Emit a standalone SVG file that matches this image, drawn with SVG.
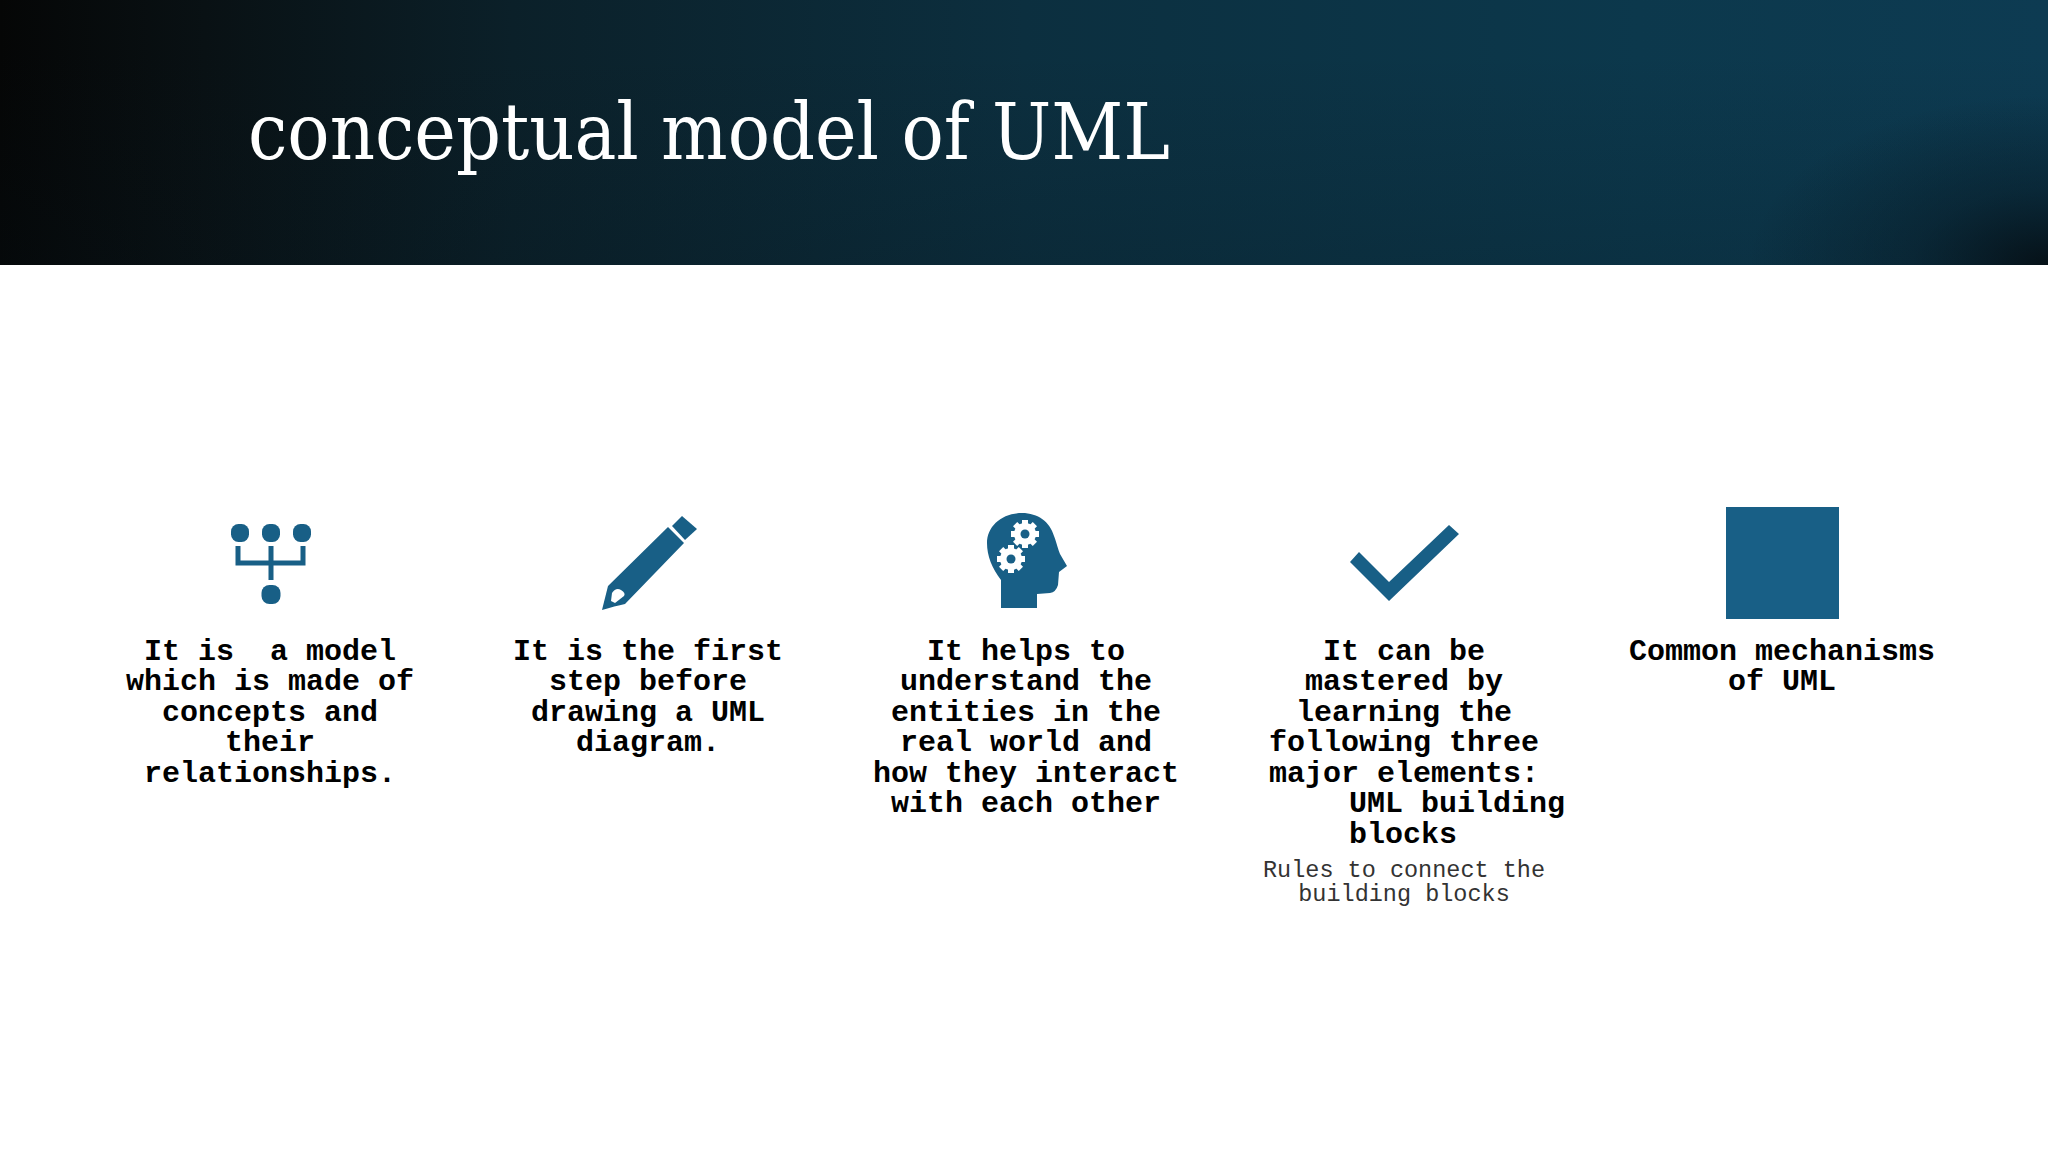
<svg xmlns="http://www.w3.org/2000/svg" width="2048" height="1152" viewBox="0 0 2048 1152">
<defs>
<linearGradient id="hdr" x1="0" y1="0" x2="1" y2="0"><stop offset="0" stop-color="#050606"/><stop offset="0.1" stop-color="#091114"/><stop offset="0.25" stop-color="#0b2029"/><stop offset="0.5" stop-color="#0c2f3f"/><stop offset="0.8" stop-color="#0c384c"/><stop offset="1" stop-color="#0d3b52"/></linearGradient>
<linearGradient id="fade" x1="0" y1="0" x2="0" y2="1"><stop offset="0.2" stop-color="#06141c" stop-opacity="0"/><stop offset="1" stop-color="#06141c" stop-opacity="0.2"/></linearGradient>
<radialGradient id="corner" gradientUnits="userSpaceOnUse" cx="0" cy="0" r="1" gradientTransform="translate(2048 265) scale(300 170)"><stop offset="0" stop-color="#050d12" stop-opacity="0.9"/><stop offset="0.45" stop-color="#06141c" stop-opacity="0.4"/><stop offset="1" stop-color="#06141c" stop-opacity="0"/></radialGradient>
<g id="gear"><rect x="-3" y="-14" width="6" height="28"/><rect x="-3" y="-14" width="6" height="28" transform="rotate(45)"/><rect x="-3" y="-14" width="6" height="28" transform="rotate(90)"/><rect x="-3" y="-14" width="6" height="28" transform="rotate(135)"/><circle r="11"/></g>
</defs>
<style>
.b{font-family:"Liberation Mono",monospace;font-size:30px;font-weight:700;fill:#000;text-anchor:middle}
.s{font-family:"Liberation Mono",monospace;font-size:23.5px;fill:#333;text-anchor:middle}
.i{fill:#185f86}
</style>
<rect width="2048" height="1152" fill="#fff"/>
<g id="header">
<rect width="2048" height="265" fill="url(#hdr)"/>
<rect width="2048" height="265" fill="url(#fade)"/>
<rect width="2048" height="265" fill="url(#corner)"/>
<text x="248" y="159" font-family="DejaVu Serif Condensed, DejaVu Serif, serif" font-stretch="condensed" font-size="78" fill="#fff" textLength="922" lengthAdjust="spacingAndGlyphs">conceptual model of UML</text>
</g>
<g id="connectors"/>
<g id="node-1">
<g class="i"><rect x="231" y="524" width="18" height="18" rx="7.5"/><rect x="262" y="524" width="18" height="18" rx="7.5"/><rect x="293" y="524" width="18" height="18" rx="7.5"/><rect x="261.500" y="585" width="19" height="19" rx="8"/>
<path d="M238 546V563H303V546M271 546V580" fill="none" stroke="#185f86" stroke-width="5"/></g>
<text class="b" xml:space="preserve"><tspan x="270" y="659.500">It is  a model</tspan><tspan x="270" y="690">which is made of</tspan><tspan x="270" y="720.500">concepts and</tspan><tspan x="270" y="751">their</tspan><tspan x="270" y="781.500">relationships.</tspan></text>
</g>
<g id="node-2">
<path class="i" d="M668 527L684 543L625 604Q615 606 602 610Q605 598 608 586Z"/>
<path class="i" d="M682 516L697 529L685 540L672 526Z"/>
<path d="M612 593Q616 587 621 590Q626 593 624 596L615 603L611 601Z" fill="#fff"/>
<text class="b"><tspan x="648" y="659.500">It is the first</tspan><tspan x="648" y="690">step before</tspan><tspan x="648" y="720.500">drawing a UML</tspan><tspan x="648" y="751">diagram.</tspan></text>
</g>
<g id="node-3">
<path class="i" d="M1001 608V580C992 568 987 556 987 543C987 526 1002 513 1022 513C1038 513 1050 522 1054 536C1057 544 1058 549 1060 554L1067 566L1059 572L1058 585Q1056 592 1050 593L1037 594V608Z"/>
<use href="#gear" x="1025" y="534" fill="#fff"/><circle cx="1025" cy="534" r="4.500" class="i"/>
<use href="#gear" x="1011" y="559" fill="#fff"/><circle cx="1011" cy="559" r="4.500" class="i"/>
<text class="b"><tspan x="1026" y="659.500">It helps to</tspan><tspan x="1026" y="690">understand the</tspan><tspan x="1026" y="720.500">entities in the</tspan><tspan x="1026" y="751">real world and</tspan><tspan x="1026" y="781.500">how they interact</tspan><tspan x="1026" y="812">with each other</tspan></text>
</g>
<g id="node-4">
<path class="i" d="M1359 552L1350 562L1389 601L1459 534L1449 525L1389 582Z"/>
<text class="b"><tspan x="1404" y="659.500">It can be</tspan><tspan x="1404" y="690">mastered by</tspan><tspan x="1404" y="720.500">learning the</tspan><tspan x="1404" y="751">following three</tspan><tspan x="1404" y="781.500">major elements:</tspan></text>
<text class="b" style="text-anchor:start"><tspan x="1349" y="812">UML building</tspan><tspan x="1349" y="842.500">blocks</tspan></text>
<text class="s"><tspan x="1404" y="877">Rules to connect the</tspan><tspan x="1404" y="901">building blocks</tspan></text>
</g>
<g id="node-5">
<rect class="i" x="1726" y="507" width="113" height="112"/>
<text class="b"><tspan x="1782" y="659.500">Common mechanisms</tspan><tspan x="1782" y="690">of UML</tspan></text>
</g>
</svg>
